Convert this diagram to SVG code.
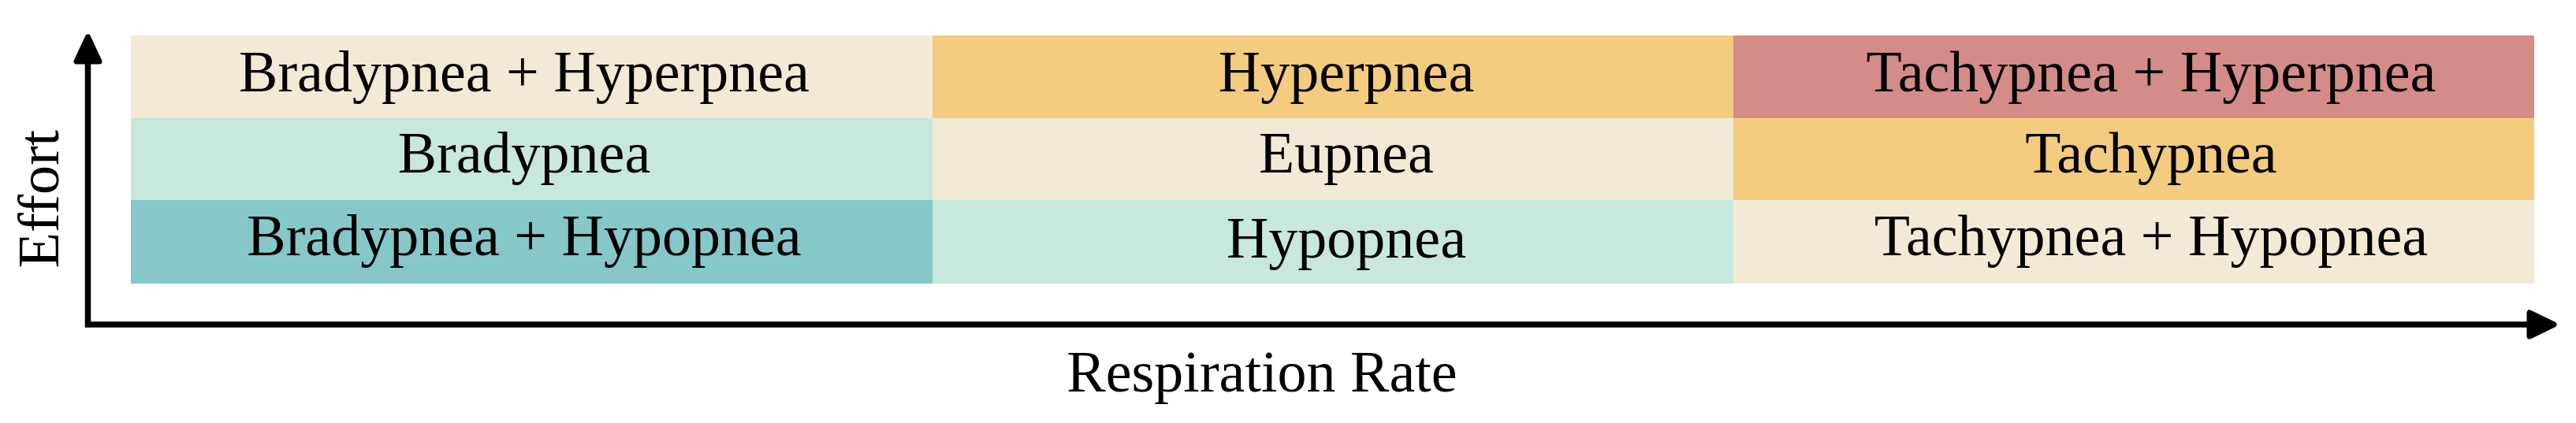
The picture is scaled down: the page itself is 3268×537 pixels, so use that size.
<svg xmlns="http://www.w3.org/2000/svg" width="3268" height="537" viewBox="0 0 3268 537">
<style>
.lbl{font-family:"Liberation Serif","Times New Roman",serif;font-size:74px;fill:#000;text-anchor:middle}
.beige{fill:#F2EAD4}
.orange{fill:#F4CC80}
.rose{fill:#D48C88}
.mint{fill:#C8E7DD}
.teal{fill:#86C7C8}
.axis{fill:none;stroke:#000;stroke-width:7.5;stroke-linejoin:miter}
.head{fill:#000;stroke:#000;stroke-width:7;stroke-linejoin:round}
</style>
<rect width="3268" height="537" fill="#fff"/>
<g id="cell-r1c1"><rect class="beige" x="166" y="45" width="1017" height="105"/><text class="lbl" x="665" y="116">Bradypnea + Hyperpnea</text></g>
<g id="cell-r1c2"><rect class="orange" x="1183" y="45" width="1016" height="105"/><text class="lbl" x="1708" y="116">Hyperpnea</text></g>
<g id="cell-r1c3"><rect class="rose" x="2199" y="45" width="1016" height="105"/><text class="lbl" x="2729" y="116">Tachypnea + Hyperpnea</text></g>
<g id="cell-r2c1"><rect class="mint" x="166" y="150" width="1017" height="104"/><text class="lbl" x="665" y="219">Bradypnea</text></g>
<g id="cell-r2c2"><rect class="beige" x="1183" y="150" width="1016" height="104"/><text class="lbl" x="1708" y="219">Eupnea</text></g>
<g id="cell-r2c3"><rect class="orange" x="2199" y="150" width="1016" height="104"/><text class="lbl" x="2729" y="219">Tachypnea</text></g>
<g id="cell-r3c1"><rect class="teal" x="166" y="254" width="1017" height="106"/><text class="lbl" x="665" y="324">Bradypnea + Hypopnea</text></g>
<g id="cell-r3c2"><rect class="mint" x="1183" y="254" width="1016" height="106"/><text class="lbl" x="1708" y="327">Hypopnea</text></g>
<g id="cell-r3c3"><rect class="beige" x="2199" y="254" width="1016" height="106"/><text class="lbl" x="2729" y="324">Tachypnea + Hypopnea</text></g>
<g id="connectors">
<path class="axis" d="M111.5,78 L111.5,412 L3210,412"/>
<polygon class="head" points="111.5,47 97,78 126,78"/>
<polygon class="head" points="3240,412 3209,397 3209,427"/>
</g>
<g id="axis-labels">
<text class="lbl" x="1601" y="497">Respiration Rate</text>
<text class="lbl" transform="translate(74,252.5) rotate(-90)" x="0" y="0">Effort</text>
</g>
</svg>
